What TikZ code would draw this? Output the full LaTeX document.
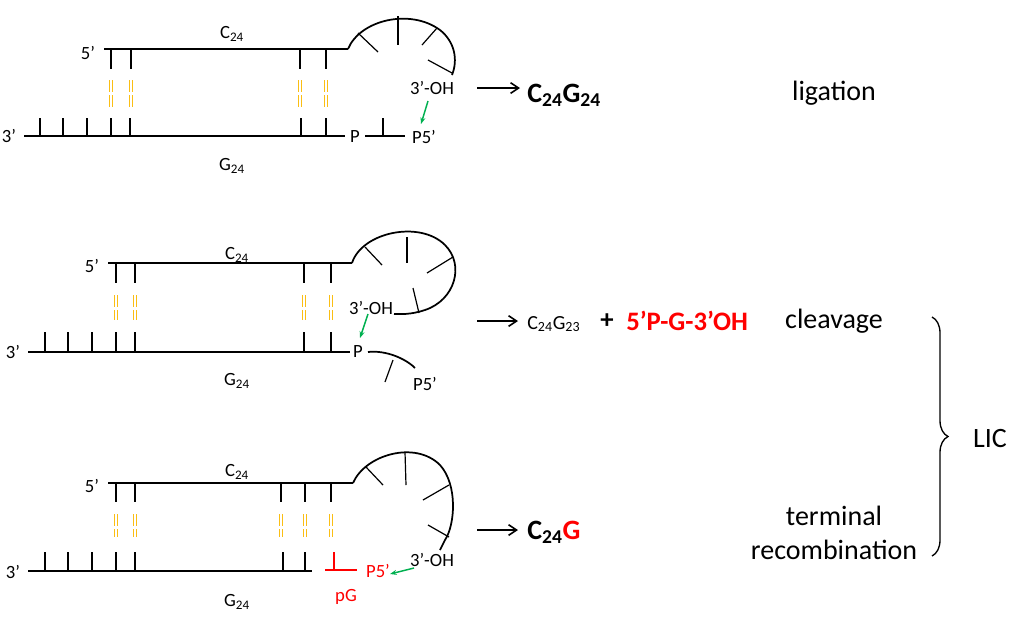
\documentclass[tikz,border=0pt]{standalone}
\usepackage{fontspec}
\setmainfont{Carlito}
\usetikzlibrary{decorations.pathreplacing,arrows.meta}
\definecolor{yelc}{RGB}{250,190,20}
\definecolor{grn}{RGB}{0,176,80}
\begin{document}
\begin{tikzpicture}[x=0.75pt,y=-0.75pt,
  strand/.style={line width=1.3pt},
  tick/.style={line width=0.9pt},
  yel/.style={draw=yelc,double=white,double distance=1.2pt,line width=0.7pt,dash pattern=on 9 off 2.5},
  lbl/.style={inner sep=0pt,font=\fontsize{14}{16}\selectfont},
  big/.style={inner sep=0pt,font=\fontsize{21}{24}\selectfont},
  garrow/.style={draw=grn,line width=1.1pt,-{Stealth[length=5pt]}},
  rarr/.style={line width=1.2pt,-{Straight Barb[length=6pt,width=8pt]}}]
\useasboundingbox (0,0) rectangle (1024,619);
% ---------- panel 1
\draw[strand] (104,49) -- (348,49);
\draw[strand] (348,49) .. controls (360,20) and (410,8) .. (440,30) .. controls (455,42) and (458,60) .. (452,75);
\foreach \a/\b/\c/\d in {358/33/378/52, 398/16/398/45, 437/28/422/45, 452/73/428/60} \draw[tick] (\a,\b)--(\c,\d);
\draw[strand] (24,136) -- (345,136);
\foreach \x in {40,63,87,111,130,301,326} \draw[tick] (\x,118)--(\x,136);
\foreach \x in {111,131,300,326} {\draw[tick] (\x,49)--(\x,69); \draw[yel] (\x,80)--(\x,107);}
\node[lbl] (f1) at (88,53) {5\textquoteright};
\node[lbl] at (232,34) {C\textsubscript{24}};
\node[lbl] at (9,136) {3\textquoteright};
\node[lbl] at (232,166) {G\textsubscript{24}};
\node[lbl] (p1) at (355,137) {P};
\draw[strand] (365,136) -- (405,136);
\draw[tick] (383,118) -- (383,136);
\node[lbl] (p5a) at (424,137) {P5\textquoteright};
\node[lbl] (oh1) at (432,88) {3\textquoteright-OH};
\draw[garrow] (428,101) -- (421,124);
\node[big,font=\fontsize{21}{24}\selectfont\bfseries,anchor=west] (r1) at (527,95) {C\textsubscript{24}G\textsubscript{24}};
\draw[rarr] (477,88) -- (520,88);
\node[big] at (834,93) {ligation};
% ---------- panel 2
\draw[strand] (108,263) -- (352,263);
\draw[strand] (352,263) .. controls (362,232) and (420,220) .. (445,245) .. controls (465,265) and (455,300) .. (425,310) .. controls (410,315) and (400,314) .. (394,314);
\foreach \a/\b/\c/\d in {365/247/382/265, 407/237/407/263, 453/257/427/273, 413/288/419/313} \draw[tick] (\a,\b)--(\c,\d);
\draw[strand] (28,352) -- (350,352);
\foreach \x in {45,68,92,116,135,304,331} \draw[tick] (\x,332)--(\x,352);
\foreach \x in {116,135,304,331} {\draw[tick] (\x,263)--(\x,283); \draw[yel] (\x,295)--(\x,320);}
\node[lbl] at (92,266) {5\textquoteright};
\node[lbl] at (237,255) {C\textsubscript{24}};
\node[lbl] at (13,352) {3\textquoteright};
\node[lbl] at (237,381) {G\textsubscript{24}};
\node[lbl] (p2) at (358,352) {P};
\draw[strand] (368,352) .. controls (385,350) and (405,358) .. (415,368);
\draw[tick] (393,360) -- (385,382);
\node[lbl] at (425,384) {P5\textquoteright};
\node[lbl] (oh2) at (371,308) {3\textquoteright-OH};
\draw[garrow] (368,314) -- (360,338);
\draw[rarr] (477,321) -- (518,321);
\node[lbl,anchor=west,font=\fontsize{15}{17}\selectfont] at (527,324) {C\textsubscript{24}G\textsubscript{23}};
\node[big,font=\fontsize{20}{24}\selectfont\bfseries] at (607,321) {+};
\node[big,font=\fontsize{20}{24}\selectfont\bfseries,text=red,anchor=west] at (626,321) {5\textquoteright P-G-3\textquoteright OH};
\node[big] at (834,321) {cleavage};
% ---------- panel 3
\draw[strand] (108,483) -- (353,483);
\draw[strand] (353,483) .. controls (365,455) and (415,440) .. (440,465) .. controls (458,485) and (455,525) .. (445,540) -- (440,550);
\foreach \a/\b/\c/\d in {366/467/383/485, 405/452/406/485, 449/485/423/500, 449/537/428/525} \draw[tick] (\a,\b)--(\c,\d);
\draw[strand] (28,571) -- (312,571);
\foreach \x in {45,68,92,116,135,283,305} \draw[tick] (\x,552)--(\x,571);
\foreach \x in {116,135,281,305,331} {\draw[tick] (\x,483)--(\x,502); \draw[yel] (\x,514)--(\x,537);}
\node[lbl] at (92,486) {5\textquoteright};
\node[lbl] at (237,472) {C\textsubscript{24}};
\node[lbl] at (13,572) {3\textquoteright};
\node[lbl] at (237,602) {G\textsubscript{24}};
\draw[strand,red] (325,570) -- (357,570);
\draw[tick,red] (334,552) -- (334,570);
\node[lbl,text=red] (p5c) at (378,571) {P5\textquoteright};
\node[lbl,text=red] at (346,597) {pG};
\node[lbl] (oh3) at (432,560) {3\textquoteright-OH};
\draw[garrow] (414,568) -- (390,574);
\draw[rarr] (477,530) -- (518,530);
\node[big,font=\fontsize{21}{24}\selectfont\bfseries,anchor=west] at (527,532) {C\textsubscript{24}\textcolor{red}{G}};
\node[big,align=center,font=\fontsize{21}{25}\selectfont] at (834,533) {terminal\\recombination};
% brace
\draw[line width=1pt,decorate,decoration={brace,amplitude=12pt}] (932,317) -- (932,556);
\node[big] at (990,438) {LIC};
\end{tikzpicture}
\end{document}
